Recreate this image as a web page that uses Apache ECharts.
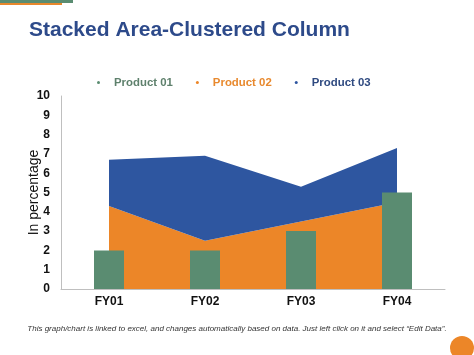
<!DOCTYPE html>
<html><head><meta charset="utf-8">
<script src="https://cdn.jsdelivr.net/npm/echarts@6/dist/echarts.min.js"></script>
<style>html,body{margin:0;padding:0;background:#fff}#c{width:474px;height:355px}</style>
</head><body><div id="c"></div>
<script>
const categories = ['FY01', 'FY02', 'FY03', 'FY04'];
const product01 = [2, 2, 3, 5];
const product02 = [4.3, 2.5, 3.5, 4.5];
const product03 = [2.4, 4.4, 1.8, 2.8];
const yTicks = [0, 10, 1];
const seriesNames = ['Product 01', 'Product 02', 'Product 03'];

const GREEN = '#5a8c71', ORANGE = '#ec8628', BLUE = '#2e56a0';
const chart = echarts.init(document.getElementById('c'));
const F = 'Liberation Sans, Arial, sans-serif';
chart.setOption({
  animation: false,
  textStyle: { fontFamily: F },
  title: {
    text: 'Stacked Area-Clustered Column', left: 24, top: 15,
    textStyle: { fontFamily: F, fontSize: 21, fontWeight: 'bold', color: '#2d4a8a' }
  },
  legend: {
    left: 92, top: 72, itemGap: 23, icon: 'circle', itemWidth: 3, itemHeight: 3,
    selectedMode: false,
    textStyle: { fontFamily: F, fontSize: 11.4, fontWeight: 'bold', padding: [0, 0, 0, 9] },
    data: [
      { name: seriesNames[0], itemStyle: { color: GREEN }, textStyle: { color: '#5e806c' } },
      { name: seriesNames[1], itemStyle: { color: ORANGE }, textStyle: { color: '#e8892e' } },
      { name: seriesNames[2], itemStyle: { color: BLUE }, textStyle: { color: '#2f4a80' } }
    ]
  },
  grid: { left: 61, right: 29, top: 96, bottom: 66 },
  xAxis: {
    type: 'category', data: categories, boundaryGap: true,
    axisLine: { lineStyle: { color: '#bfbfbf' } }, axisTick: { show: false },
    axisLabel: { margin: 7, fontFamily: F, fontSize: 12, fontWeight: 'bold', color: '#111' }
  },
  yAxis: {
    type: 'value', min: yTicks[0], max: yTicks[1], interval: yTicks[2],
    name: 'In percentage', nameLocation: 'middle', nameGap: 20, nameRotate: 90,
    nameMoveOverlap: false,
    nameTextStyle: { fontFamily: F, fontSize: 14, color: '#111' },
    axisLine: { show: true, lineStyle: { color: '#bfbfbf' } }, axisTick: { show: false },
    splitLine: { show: false },
    axisLabel: { margin: 11, fontFamily: F, fontSize: 12, fontWeight: 'bold', color: '#111' }
  },
  series: [
    { name: seriesNames[1], type: 'line', stack: 'a', data: product02, symbol: 'none',
      lineStyle: { width: 0 }, itemStyle: { color: ORANGE }, areaStyle: { color: ORANGE, opacity: 1 }, z: 1 },
    { name: seriesNames[2], type: 'line', stack: 'a', data: product03, symbol: 'none',
      lineStyle: { width: 0 }, itemStyle: { color: BLUE }, areaStyle: { color: BLUE, opacity: 1 }, z: 1 },
    { name: seriesNames[0], type: 'bar', data: product01, barWidth: 30, itemStyle: { color: GREEN }, z: 3 }
  ],
  graphic: [
    { type: 'rect', shape: { x: 0, y: 0, width: 73, height: 3 }, style: { fill: '#5a8c71' } },
    { type: 'rect', shape: { x: 0, y: 3, width: 62, height: 2 }, style: { fill: '#e8872b' } },
    { type: 'text', left: 'center', top: 325, style: {
        text: 'This graph/chart is linked to excel, and changes automatically based on data. Just left click on it and select \u201cEdit Data\u201d.',
        font: 'italic 8px Liberation Sans, Arial, sans-serif', fill: '#333' } },
    { type: 'circle', shape: { cx: 462, cy: 348, r: 12 }, style: { fill: '#ec8628' } }
  ]
});
</script></body></html>
